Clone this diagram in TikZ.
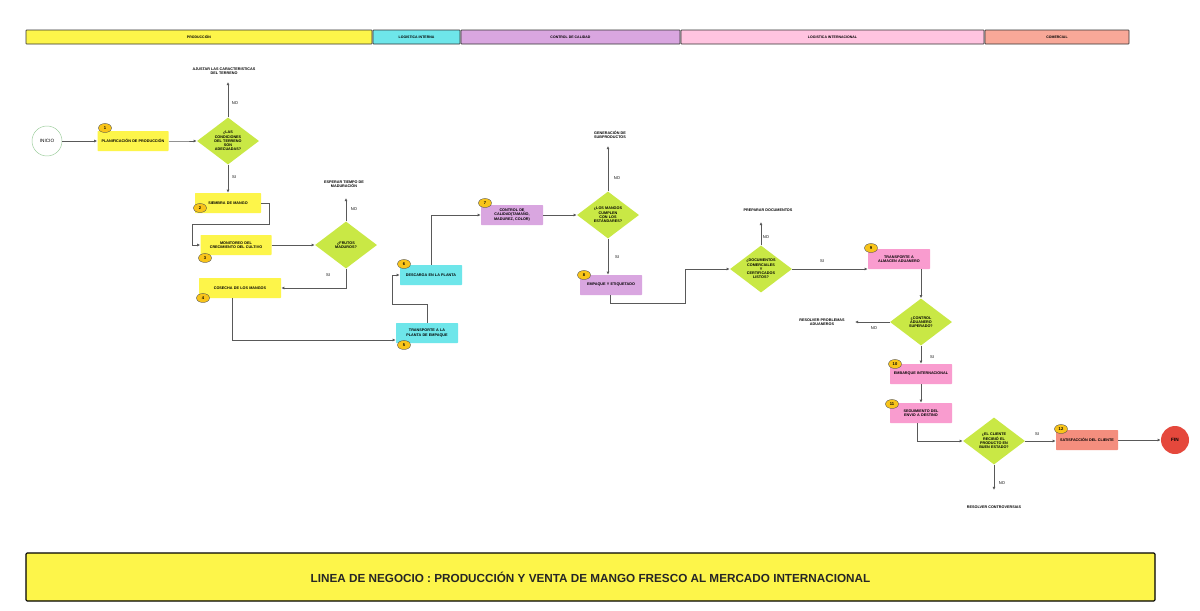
\documentclass[tikz,border=0pt]{standalone}
\usepackage{fontspec}
\setmainfont{Liberation Sans}
\usetikzlibrary{shapes.geometric,arrows.meta}
\definecolor{cy}{HTML}{FDF54A}
\definecolor{cc}{HTML}{6EE6EA}
\definecolor{cp}{HTML}{D9A6E0}
\definecolor{cpk}{HTML}{F99CCF}
\definecolor{cs}{HTML}{F48E7E}
\definecolor{cd}{HTML}{C9E845}
\definecolor{cb}{HTML}{F8C41A}
\definecolor{hp}{HTML}{FFC4E0}
\definecolor{hs}{HTML}{F8A898}
\definecolor{cf}{HTML}{E5483C}
\hyphenpenalty=10000
\exhyphenpenalty=10000
\begin{document}
\begin{tikzpicture}[x=0.03cm,y=-0.03cm,
 t/.style={font=\fontsize{3.2}{3.6}\selectfont\bfseries,align=center},
 box/.style={t,draw=none,inner sep=0,minimum width=62*0.03cm,minimum height=20*0.03cm,rounded corners=0.5pt,text width=56*0.03cm},
 dia/.style={t,diamond,fill=cd,draw=none,minimum width=62*0.03cm,minimum height=47*0.03cm,inner sep=0,aspect=1.33,text width=30*0.03cm},
 badge/.style={ellipse,fill=cb,draw=black!70,line width=0.3pt,minimum width=13*0.03cm,minimum height=9*0.03cm,inner sep=0,font=\fontsize{3.5}{4}\selectfont\bfseries},
 hdr/.style={draw=black!80,line width=0.5pt,rounded corners=0.5pt,font=\fontsize{3}{3.5}\selectfont\bfseries},
 ar/.style={draw=black!65,line width=0.55pt,-{Latex[length=2.6pt,width=2.4pt]}},
 lb/.style={font=\fontsize{3.5}{4}\selectfont},
 ot/.style={t}]
\useasboundingbox (0,0) rectangle (1200,610);
\fill[white] (0,0) rectangle (1200,610);
% headers
\draw[hdr,fill=cy] (26,30) rectangle node (h1) {PRODUCCIÓN} (372,44);
\draw[hdr,fill=cc] (373,30) rectangle node (h2) {LOGISTICA INTERNA} (460,44);
\draw[hdr,fill=cp] (461,30) rectangle node (h3) {CONTROL DE CALIDAD} (680,44);
\draw[hdr,fill=hp] (681,30) rectangle node (h4) {LOGISTICA INTERNACIONAL} (984,44);
\draw[hdr,fill=hs] (985,30) rectangle node (h5) {COMERCIAL} (1129,44);
% nodes
\node[circle,draw=green!50!black!40,line width=0.4pt,minimum size=30*0.03cm,inner sep=0,font=\fontsize{4}{4}\selectfont] (ini) at (47,141) {INICIO};
\node[box,fill=cy,minimum width=71*0.03cm,text width=66*0.03cm] (b1) at (133,141) {PLANIFICACIÓN DE PRODUCCIÓN};
\node[dia] (d1) at (228,141) {¿LAS CONDICIONES DEL TERRENO SON ADECUADAS?};
\node[ot] (o1) at (224,71) {AJUSTAR LAS CARACTERISTICAS\\DEL TERRENO};
\node[box,fill=cy,minimum width=66*0.03cm] (b2) at (228,203) {SIEMBRA DE MANGO};
\node[box,fill=cy,minimum width=71*0.03cm] (b3) at (236,245) {MONITOREO DEL CRECIMIENTO DEL CULTIVO};
\node[dia] (d2) at (346,245) {¿FRUTOS MADUROS?};
\node[ot] (o2) at (344,184) {ESPERAR TIEMPO DE\\MADURACIÓN};
\node[box,fill=cy,minimum width=82*0.03cm] (b4) at (240,288) {COSECHA DE LOS MANGOS};
\node[box,fill=cc] (b5) at (427,333) {TRANSPORTE A LA PLANTA DE EMPAQUE};
\node[box,fill=cc] (b6) at (431,275) {DESCARGA EN LA PLANTA};
\node[box,fill=cp] (b7) at (512,215) {CONTROL DE CALIDAD(TAMAÑO, MADUREZ, COLOR)};
\node[dia] (d3) at (608,215) {¿LOS MANGOS CUMPLEN CON LOS ESTÁNDARES?};
\node[ot] (o3) at (610,135) {GENERACIÓN DE\\SUBPRODUCTOS};
\node[box,fill=cp] (b8) at (611,285) {EMPAQUE Y ETIQUETADO};
\node[dia] (d4) at (761,269) {¿DOCUMENTOS COMERCIALES Y CERTIFICADOS LISTOS?};
\node[ot] (o4) at (768,210) {PREPARAR DOCUMENTOS};
\node[box,fill=cpk] (b9) at (899,259) {TRANSPORTE A ALMACEN ADUANERO};
\node[dia] (d5) at (921,322) {¿CONTROL ADUANERO SUPERADO?};
\node[ot] (o5) at (822,322) {RESOLVER PROBLEMAS\\ADUANEROS};
\node[box,fill=cpk] (b10) at (921,374) {EMBARQUE INTERNACIONAL};
\node[box,fill=cpk] (b11) at (921,413) {SEGUIMIENTO DEL ENVIO A DESTINO};
\node[dia] (d6) at (994,441) {¿EL CLIENTE RECIBIÓ EL PRODUCTO EN BUEN ESTADO?};
\node[ot] (o6) at (994,507) {RESOLVER CONTROVERSIAS};
\node[box,fill=cs] (b12) at (1087,440) {SATISFACCIÓN DEL CLIENTE};
\node[circle,fill=cf,minimum size=28*0.03cm,inner sep=0,font=\fontsize{4}{4}\selectfont\bfseries] (fin) at (1175,440) {FIN};
% badges
\node[badge] (n1) at (105,128) {1};
\node[badge] (n2) at (200,208) {2};
\node[badge] (n3) at (205,258) {3};
\node[badge] (n4) at (203,298) {4};
\node[badge] (n5) at (404,345) {5};
\node[badge] (n6) at (404,264) {6};
\node[badge] (n7) at (485,203) {7};
\node[badge] (n8) at (584,275) {8};
\node[badge] (n9) at (871,248) {9};
\node[badge] (n10) at (895,364) {10};
\node[badge] (n11) at (892,404) {11};
\node[badge] (n12) at (1061,429) {12};
% connectors
\coordinate (c1) at (228,82);
\coordinate (c2) at (346,198);
\coordinate (c3) at (608,146);
\coordinate (c4) at (761,222);
\coordinate (c5) at (855,322);
\coordinate (c6) at (994,490);
\draw[ar] (ini) -- (b1);
\draw[ar] (b1.east) -- (185,141) -- (d1.west);
\draw[ar] (d1.north) -- (c1);
\draw[ar] (d1.south) -- (b2.north);
\draw[ar] (b2.east) -- (269,203) -- (269,224) -- (192,224) -- (192,245) -- (b3.west);
\draw[ar] (b3) -- (d2);
\draw[ar] (d2.north) -- (c2);
\draw[ar] (d2.south) -- (346,288) -- (b4.east);
\draw[ar] (b4.south -| 232,0) -- (232,340) -- (b5.west |- 0,340);
\draw[ar] (b5.north) -- (427,304) -- (392,304) -- (392,275) -- (b6.west);
\draw[ar] (b6.north) -- (431,215) -- (b7.west);
\draw[ar] (b7) -- (d3);
\draw[ar] (d3.north) -- (c3);
\draw[ar] (d3.south) -- (b8.north -| d3.south);
\draw[ar] (b8.south -| 610,0) -- (610,303) -- (685,303) -- (685,269) -- (d4.west);
\draw[ar] (d4.north) -- (c4);
\draw[ar] (d4.east) -- (b9.west |- d4.east);
\draw[ar] (b9.south -| 921,0) -- (d5.north);
\draw[ar] (d5.west) -- (c5);
\draw[ar] (d5.south) -- (b10.north);
\draw[ar] (b10.south) -- (b11.north);
\draw[ar] (b11.south -| 917,0) -- (917,441) -- (d6.west);
\draw[ar] (d6.east) -- (b12.west |- d6.east);
\draw[ar] (b12) -- (fin);
\draw[ar] (d6.south) -- (c6);
% labels
\node[lb] at (235,103) {NO};
\node[lb] at (234,177) {SI};
\node[lb] at (354,209) {NO};
\node[lb] at (328,275) {SI};
\node[lb] at (617,178) {NO};
\node[lb] at (617,257) {SI};
\node[lb] at (766,237) {NO};
\node[lb] at (822,261) {SI};
\node[lb] at (874,328) {NO};
\node[lb] at (932,357) {SI};
\node[lb] at (1037,434) {SI};
\node[lb] at (1002,483) {NO};
% banner
\draw[fill=cy,draw=black,line width=0.9pt,rounded corners=1pt] (26,553) rectangle node[font=\fontsize{10}{12}\selectfont\bfseries,text=black!85] (ban) {LINEA DE NEGOCIO : PRODUCCIÓN Y VENTA DE MANGO FRESCO AL MERCADO INTERNACIONAL} (1155,601);
\end{tikzpicture}
\end{document}
